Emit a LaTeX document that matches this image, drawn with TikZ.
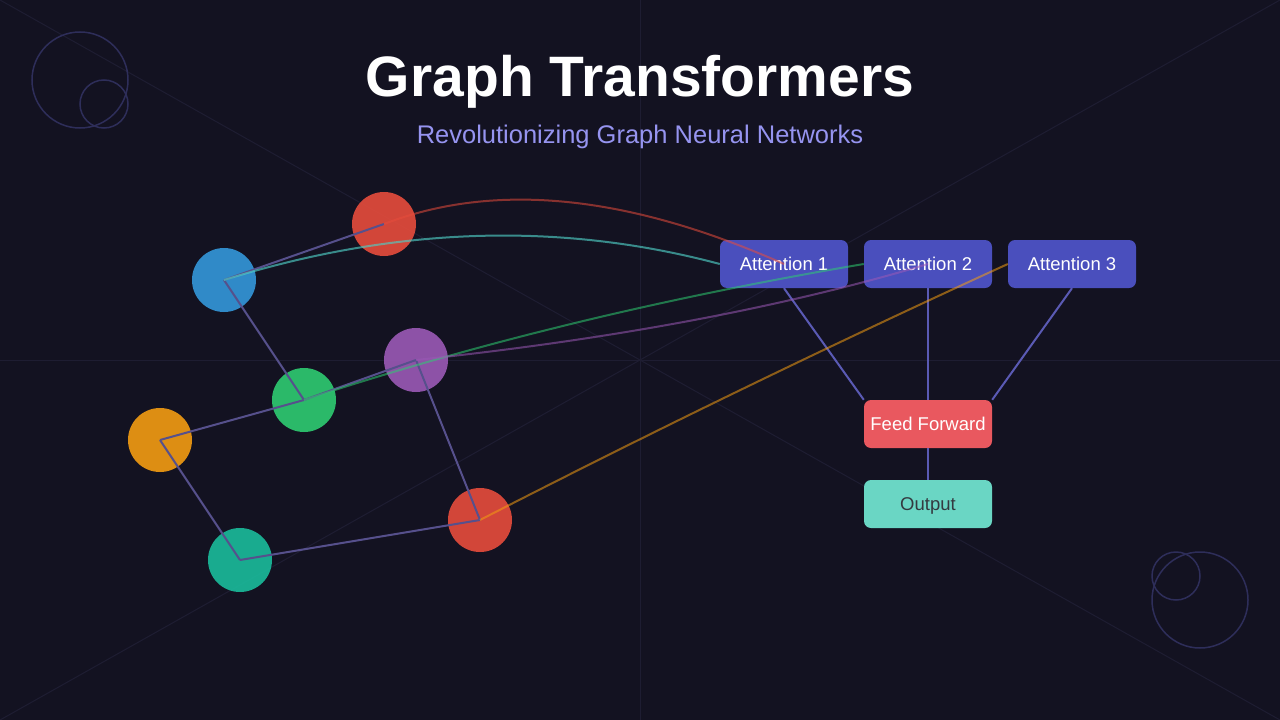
\documentclass[tikz,border=0pt]{standalone}
\usepackage{fontspec}
\setmainfont{Liberation Sans}
\usetikzlibrary{calc}
\definecolor{bg}{RGB}{19,18,33}
\definecolor{bgline}{RGB}{30,29,50}
\definecolor{deco}{RGB}{46,46,90}
\definecolor{edgec}{RGB}{86,80,140}
\definecolor{tline}{RGB}{90,90,180}
\definecolor{cred}{HTML}{E74C3C}
\definecolor{cblue}{HTML}{3498DB}
\definecolor{cgreen}{HTML}{2ECC71}
\definecolor{cpurple}{HTML}{9B59B6}
\definecolor{corange}{HTML}{F39C12}
\definecolor{cteal}{HTML}{1ABC9C}
\definecolor{cteal2}{HTML}{4ECDC4}
\definecolor{attc}{RGB}{74,79,189}
\definecolor{ffc}{RGB}{233,88,95}
\definecolor{outc}{RGB}{106,214,196}
\definecolor{subc}{RGB}{150,148,240}
\definecolor{outtext}{RGB}{52,58,64}
\begin{document}
\begin{tikzpicture}[x=1pt,y=-1pt,
  bgstroke/.style={draw=bgline,line width=1pt},
  decostroke/.style={draw=deco,line width=1.5pt},
  gnode/.style={circle,minimum size=64pt,inner sep=0pt,fill opacity=0.9},
  gedge/.style={draw=edgec,line width=2pt},
  boxbase/.style={rectangle,rounded corners=7pt,minimum width=128pt,minimum height=48pt,inner sep=0pt,text height=13pt,text depth=0pt,font=\fontsize{18.5}{22}\selectfont},
  attbox/.style={boxbase,fill=attc,text=white},
  ffbox/.style={boxbase,fill=ffc,text=white},
  outbox/.style={boxbase,fill=outc,text=outtext},
  tconn/.style={draw=tline,line width=2pt},
  acurve/.style={line width=2pt,draw opacity=0.55}
]
\useasboundingbox (0,0) rectangle (1280,720);
\fill[bg] (0,0) rectangle (1280,720);
% background lines
\draw[bgstroke] (0,0) -- (1280,720);
\draw[bgstroke] (0,720) -- (1280,0);
\draw[bgstroke] (0,360) -- (1280,360);
\draw[bgstroke] (640,0) -- (640,720);
% corner decorations
\draw[decostroke] (80,80) circle[radius=48];
\draw[decostroke] (104,104) circle[radius=24];
\draw[decostroke] (1200,600) circle[radius=48];
\draw[decostroke] (1176,576) circle[radius=24];
% title
\node[anchor=base,text=white,font=\fontsize{57}{60}\selectfont\bfseries] (title) at (640,96) {Graph Transformers};
\node[anchor=base,text=subc,font=\fontsize{25.5}{30}\selectfont] (subtitle) at (640,143) {Revolutionizing Graph Neural Networks};
% graph nodes
\node[gnode,fill=cred] (n1) at (384,224) {};
\node[gnode,fill=cblue] (n2) at (224,280) {};
\node[gnode,fill=cgreen] (n3) at (304,400) {};
\node[gnode,fill=cpurple] (n4) at (416,360) {};
\node[gnode,fill=corange] (n5) at (160,440) {};
\node[gnode,fill=cteal] (n6) at (240,560) {};
\node[gnode,fill=cred] (n7) at (480,520) {};
% graph edges
\draw[gedge] (n2.center) -- (n1.center);
\draw[gedge] (n2.center) -- (n3.center);
\draw[gedge] (n3.center) -- (n5.center);
\draw[gedge] (n3.center) -- (n4.center);
\draw[gedge] (n4.center) -- (n7.center);
\draw[gedge] (n5.center) -- (n6.center);
\draw[gedge] (n6.center) -- (n7.center);
% transformer boxes
\node[attbox] (a1) at (784,264) {Attention 1};
\node[attbox] (a2) at (928,264) {Attention 2};
\node[attbox] (a3) at (1072,264) {Attention 3};
\node[ffbox] (ff) at (928,424) {Feed Forward};
\node[outbox] (out) at (928,504) {Output};
\draw[tconn] (a1.south) -- (ff.north west);
\draw[tconn] (a2.south) -- (ff.north);
\draw[tconn] (a3.south) -- (ff.north east);
\draw[tconn] (ff.south) -- (out.north);
% attention curves (quadratic curves written as cubic)
\draw[acurve,draw=cred] (n1.center) .. controls ($(n1.center)!0.6667!(550,160)$) and ($(a1.center)!0.6667!(550,160)$) .. (a1.center);
\draw[acurve,draw=cteal2,draw opacity=0.65] (n2.center) .. controls ($(n2.center)!0.6667!(480,200)$) and ($(a1.west)!0.6667!(480,200)$) .. (a1.west);
\draw[acurve,draw=cgreen] (n3.center) .. controls ($(n3.center)!0.6667!(562,315)$) and ($(a2.west)!0.6667!(562,315)$) .. (a2.west);
\draw[acurve,draw=cpurple] (n4.center) .. controls ($(n4.center)!0.6667!(711,329)$) and ($(a2.center)!0.6667!(711,329)$) .. (a2.center);
\draw[acurve,draw=corange] (n7.center) .. controls ($(n7.center)!0.6667!(741,386)$) and ($(a3.west)!0.6667!(741,386)$) .. (a3.west);
\end{tikzpicture}
\end{document}
